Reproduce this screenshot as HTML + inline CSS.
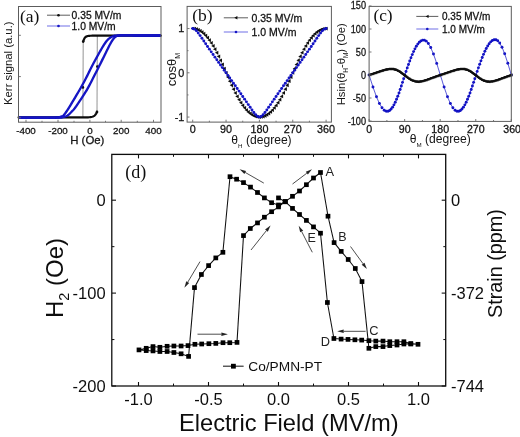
<!DOCTYPE html>
<html lang="en"><head><meta charset="utf-8"><title>Figure</title>
<style>html,body{margin:0;padding:0;background:#fff;}svg{display:block;}</style>
</head><body>
<svg width="520" height="437" viewBox="0 0 520 437">
<defs><filter id="soft" x="-5%" y="-5%" width="110%" height="110%"><feGaussianBlur stdDeviation="0.45"/></filter><filter id="soft2" x="-5%" y="-5%" width="110%" height="110%"><feGaussianBlur stdDeviation="0.3"/></filter></defs>
<rect width="520" height="437" fill="#ffffff"/>
<g id="panel-a" filter="url(#soft)">
<polyline points="82.9,117.4 83.2,41.5" fill="none" stroke="#666" stroke-width="0.7" />
<polyline points="97.3,35.7 97,111.9" fill="none" stroke="#666" stroke-width="0.7" />
<polyline points="83.2,41.5 84,39.22 84.8,37.83 85.6,36.99 86.4,36.48 87.2,36.18 88,35.99 88.8,35.88 89.6,35.81 90.4,35.76 91.2,35.74 92,35.72 92.8,35.71 93.6,35.71 94.4,35.71 95.2,35.7 96,35.7 96.8,35.7 97.6,35.7 98.4,35.7 99.2,35.7 100,35.7 100.8,35.7 101.6,35.7 102.4,35.7 103.2,35.7 104,35.7 104.8,35.7 105.6,35.7 106.4,35.7 107.2,35.7 108,35.7 108.8,35.7 109.6,35.7 110.4,35.7 111.2,35.7 112,35.7 112.8,35.7 113.6,35.7 114.4,35.7 115.2,35.7 116,35.7 116.8,35.7 117.6,35.7 118.4,35.7 119.2,35.7 120,35.7 120.8,35.7 121.6,35.7 122.4,35.7 123.2,35.7 124,35.7 124.8,35.7 125.6,35.7 126.4,35.7 127.2,35.7 128,35.7 128.8,35.7 129.6,35.7 130.4,35.7 131.2,35.7 132,35.7 132.8,35.7 133.6,35.7 134.4,35.7 135.2,35.7 136,35.7 136.8,35.7 137.6,35.7 138.4,35.7 139.2,35.7 140,35.7 140.8,35.7 141.6,35.7 142.4,35.7 143.2,35.7 144,35.7 144.8,35.7 145.6,35.7 146.4,35.7 147.2,35.7 148,35.7 148.8,35.7 149.6,35.7 150.4,35.7 151.2,35.7 152,35.7 152.8,35.7 153.6,35.7 154.4,35.7 155.2,35.7 156,35.7 156.8,35.7 157.6,35.7 158.4,35.7 159.2,35.7 160,35.7 160.8,35.7" fill="none" stroke="#0a0a0a" stroke-width="2.2" stroke-linejoin="round" stroke-linecap="round"/>
<polyline points="97,111.9 96.2,113.58 95.4,114.74 94.6,115.55 93.8,116.12 93,116.51 92.2,116.78 91.4,116.97 90.6,117.1 89.8,117.19 89,117.26 88.2,117.3 87.4,117.33 86.6,117.35 85.8,117.37 85,117.38 84.2,117.38 83.4,117.39 82.6,117.39 81.8,117.39 81,117.4 80.2,117.4 79.4,117.4 78.6,117.4 77.8,117.4 77,117.4 76.2,117.4 75.4,117.4 74.6,117.4 73.8,117.4 73,117.4 72.2,117.4 71.4,117.4 70.6,117.4 69.8,117.4 69,117.4 68.2,117.4 67.4,117.4 66.6,117.4 65.8,117.4 65,117.4 64.2,117.4 63.4,117.4 62.6,117.4 61.8,117.4 61,117.4 60.2,117.4 59.4,117.4 58.6,117.4 57.8,117.4 57,117.4 56.2,117.4 55.4,117.4 54.6,117.4 53.8,117.4 53,117.4 52.2,117.4 51.4,117.4 50.6,117.4 49.8,117.4 49,117.4 48.2,117.4 47.4,117.4 46.6,117.4 45.8,117.4 45,117.4 44.2,117.4 43.4,117.4 42.6,117.4 41.8,117.4 41,117.4 40.2,117.4 39.4,117.4 38.6,117.4 37.8,117.4 37,117.4 36.2,117.4 35.4,117.4 34.6,117.4 33.8,117.4 33,117.4 32.2,117.4 31.4,117.4 30.6,117.4 29.8,117.4 29,117.4 28.2,117.4 27.4,117.4 26.6,117.4 25.8,117.4 25,117.4 24.2,117.4 23.4,117.4 22.6,117.4 21.8,117.4 21,117.4 20.2,117.4 19.4,117.4 18.6,117.4" fill="none" stroke="#0a0a0a" stroke-width="2.2" stroke-linejoin="round" stroke-linecap="round"/>
<g fill="#0a0a0a"><circle cx="83.2" cy="41.5" r="1.3"/><circle cx="82.9" cy="87.4" r="1.3"/><circle cx="97.3" cy="66.6" r="1.3"/><circle cx="97" cy="111.9" r="1.3"/></g>
<polyline points="18.5,117.7 20.2,117.7 22.49,117.7 25.23,117.71 28.25,117.71 31.4,117.71 34.51,117.71 37.43,117.71 40,117.7 42.34,117.69 44.64,117.68 46.89,117.67 49.03,117.66 51.05,117.64 52.9,117.6 54.56,117.56 56,117.5 57.16,117.43 58.06,117.36 58.75,117.28 59.28,117.18 59.72,117.07 60.11,116.94 60.52,116.78 61,116.6 61.48,116.45 61.87,116.36 62.22,116.29 62.56,116.18 62.92,115.98 63.34,115.63 63.85,115.09 64.5,114.3 65.27,113.26 66.13,112.02 67.07,110.61 68.08,109.04 69.15,107.35 70.26,105.54 71.42,103.65 72.6,101.7 73.85,99.62 75.2,97.35 76.62,94.95 78.07,92.47 79.52,89.95 80.95,87.45 82.32,85.02 83.6,82.7 84.79,80.47 85.93,78.28 87.03,76.11 88.09,73.98 89.12,71.88 90.15,69.82 91.17,67.79 92.2,65.8 93.25,63.81 94.33,61.79 95.41,59.79 96.47,57.84 97.5,55.96 98.47,54.19 99.38,52.56 100.2,51.1 100.92,49.83 101.57,48.72 102.14,47.74 102.66,46.88 103.15,46.1 103.6,45.38 104.05,44.69 104.5,44 104.94,43.34 105.34,42.75 105.72,42.21 106.08,41.71 106.43,41.25 106.78,40.82 107.13,40.41 107.5,40 107.88,39.61 108.25,39.24 108.62,38.9 109,38.59 109.38,38.29 109.75,38.01 110.12,37.75 110.5,37.5 110.86,37.27 111.21,37.05 111.56,36.86 111.91,36.68 112.27,36.52 112.64,36.37 113.05,36.23 113.5,36.1 113.87,35.98 114.11,35.88 114.31,35.79 114.56,35.71 114.96,35.65 115.61,35.59 116.59,35.54 118,35.5 119.92,35.47 122.3,35.46 125.02,35.46 127.98,35.46 131.07,35.47 134.17,35.49 137.19,35.5 140,35.5 142.8,35.5 145.77,35.5 148.8,35.5 151.78,35.5 154.58,35.5 157.09,35.5 159.2,35.5 160.8,35.5" fill="none" stroke="#1212c4" stroke-width="2.3" stroke-linejoin="round"/>
<polyline points="18.5,117.7 20.18,117.7 22.45,117.7 25.14,117.7 28.12,117.7 31.25,117.7 34.37,117.7 37.33,117.7 40,117.7 42.51,117.7 45.05,117.71 47.58,117.72 50.03,117.73 52.36,117.74 54.5,117.74 56.4,117.72 58,117.7 59.25,117.67 60.17,117.64 60.84,117.61 61.34,117.56 61.73,117.5 62.08,117.43 62.48,117.33 63,117.2 63.6,117.05 64.18,116.9 64.76,116.72 65.34,116.53 65.91,116.3 66.47,116.04 67.04,115.74 67.6,115.4 68.16,115 68.72,114.56 69.28,114.07 69.83,113.55 70.38,113 70.93,112.44 71.47,111.87 72,111.3 72.48,110.79 72.9,110.37 73.28,109.97 73.67,109.54 74.11,109.02 74.63,108.34 75.28,107.46 76.1,106.3 77.11,104.84 78.3,103.12 79.61,101.2 81.01,99.12 82.45,96.94 83.9,94.71 85.29,92.48 86.6,90.3 87.85,88.12 89.09,85.85 90.33,83.52 91.54,81.17 92.74,78.84 93.9,76.54 95.02,74.32 96.1,72.2 97.13,70.18 98.12,68.22 99.08,66.31 100,64.46 100.9,62.64 101.78,60.87 102.64,59.12 103.5,57.4 104.36,55.67 105.21,53.94 106.06,52.22 106.88,50.55 107.68,48.94 108.43,47.43 109.14,46.04 109.8,44.8 110.39,43.71 110.93,42.75 111.42,41.91 111.87,41.17 112.29,40.5 112.7,39.9 113.1,39.34 113.5,38.8 113.89,38.31 114.25,37.89 114.6,37.53 114.93,37.22 115.26,36.96 115.59,36.72 115.94,36.51 116.3,36.3 116.56,36.11 116.67,35.96 116.71,35.84 116.79,35.74 117.02,35.67 117.47,35.6 118.27,35.55 119.5,35.5 121.23,35.46 123.4,35.44 125.91,35.44 128.65,35.45 131.53,35.46 134.45,35.48 137.3,35.49 140,35.5 142.73,35.5 145.67,35.5 148.69,35.5 151.68,35.5 154.51,35.5 157.06,35.5 159.19,35.5 160.8,35.5" fill="none" stroke="#1212c4" stroke-width="2.3" stroke-linejoin="round"/>
<rect x="18.5" y="6.5" width="142.5" height="115.7" fill="none" stroke="#5c5c5c" stroke-width="1"/>
<line x1="26" y1="122.2" x2="26" y2="119.8" stroke="#6a6a6a" stroke-width="0.9"/>
<text x="26" y="134" font-size="9.8" text-anchor="middle" font-family='"Liberation Sans", Arial, sans-serif' fill="#141414"  stroke="#141414" stroke-width="0.28">-400</text>
<line x1="58" y1="122.2" x2="58" y2="119.8" stroke="#6a6a6a" stroke-width="0.9"/>
<text x="58" y="134" font-size="9.8" text-anchor="middle" font-family='"Liberation Sans", Arial, sans-serif' fill="#141414"  stroke="#141414" stroke-width="0.28">-200</text>
<line x1="89.9" y1="122.2" x2="89.9" y2="119.8" stroke="#6a6a6a" stroke-width="0.9"/>
<text x="89.9" y="134" font-size="9.8" text-anchor="middle" font-family='"Liberation Sans", Arial, sans-serif' fill="#141414"  stroke="#141414" stroke-width="0.28">0</text>
<line x1="121.2" y1="122.2" x2="121.2" y2="119.8" stroke="#6a6a6a" stroke-width="0.9"/>
<text x="121.2" y="134" font-size="9.8" text-anchor="middle" font-family='"Liberation Sans", Arial, sans-serif' fill="#141414"  stroke="#141414" stroke-width="0.28">200</text>
<line x1="153.5" y1="122.2" x2="153.5" y2="119.8" stroke="#6a6a6a" stroke-width="0.9"/>
<text x="153.5" y="134" font-size="9.8" text-anchor="middle" font-family='"Liberation Sans", Arial, sans-serif' fill="#141414"  stroke="#141414" stroke-width="0.28">400</text>
<line x1="42" y1="122.2" x2="42" y2="120.8" stroke="#6a6a6a" stroke-width="0.9"/>
<line x1="74" y1="122.2" x2="74" y2="120.8" stroke="#6a6a6a" stroke-width="0.9"/>
<line x1="105.5" y1="122.2" x2="105.5" y2="120.8" stroke="#6a6a6a" stroke-width="0.9"/>
<line x1="137.3" y1="122.2" x2="137.3" y2="120.8" stroke="#6a6a6a" stroke-width="0.9"/>
<line x1="18.5" y1="35.3" x2="20.9" y2="35.3" stroke="#6a6a6a" stroke-width="0.9"/>
<line x1="18.5" y1="76.6" x2="20.9" y2="76.6" stroke="#6a6a6a" stroke-width="0.9"/>
<line x1="18.5" y1="117.7" x2="20.9" y2="117.7" stroke="#6a6a6a" stroke-width="0.9"/>
<text x="87.3" y="144.4" font-size="11.4" text-anchor="middle" font-family='"Liberation Sans", Arial, sans-serif' fill="#141414"  stroke="#141414" stroke-width="0.28">H (Oe)</text>
<text transform="translate(12.4,63.2) rotate(-90)" font-size="11.3" text-anchor="middle" font-family='"Liberation Sans", Arial, sans-serif' fill="#141414">Kerr signal (a.u.)</text>
<text x="20" y="21.7" font-size="17.5" text-anchor="start" font-family='"Liberation Serif", "Times New Roman", serif' fill="#111" >(a)</text>
<line x1="47" y1="15.2" x2="70" y2="15.2" stroke="#333" stroke-width="0.8"/>
<g fill="#0a0a0a"><circle cx="58.5" cy="15.2" r="1.3"/></g>
<line x1="47" y1="26" x2="70" y2="26" stroke="#4a4ae0" stroke-width="0.8"/>
<g fill="#1212c4"><circle cx="58.5" cy="26" r="1.3"/></g>
<text x="71.6" y="18.9" font-size="10.3" text-anchor="start" font-family='"Liberation Sans", Arial, sans-serif' fill="#141414"  stroke="#141414" stroke-width="0.28">0.35 MV/m</text>
<text x="71.6" y="29.6" font-size="10.3" text-anchor="start" font-family='"Liberation Sans", Arial, sans-serif' fill="#141414"  stroke="#141414" stroke-width="0.28">1.0 MV/m</text>
</g>
<g id="panel-b" filter="url(#soft)">
<polyline points="192.7,28.55 194.55,28.69 196.41,29.12 198.26,29.83 200.11,30.83 201.96,32.12 203.82,33.7 205.67,35.57 207.52,37.73 209.38,40.18 211.23,42.91 213.08,45.91 214.93,49.18 216.79,52.69 218.64,56.42 220.49,60.34 222.34,64.41 224.2,68.58 226.05,72.8 227.9,77.02 229.76,81.19 231.61,85.26 233.46,89.18 235.31,92.91 237.17,96.42 239.02,99.69 240.87,102.69 242.72,105.42 244.58,107.87 246.43,110.03 248.28,111.9 250.14,113.48 251.99,114.77 253.84,115.77 255.69,116.48 257.55,116.91 259.4,117.05 261.25,116.91 263.11,116.48 264.96,115.77 266.81,114.77 268.66,113.48 270.52,111.9 272.37,110.03 274.22,107.87 276.07,105.42 277.93,102.69 279.78,99.69 281.63,96.42 283.49,92.91 285.34,89.18 287.19,85.26 289.04,81.19 290.9,77.02 292.75,72.8 294.6,68.58 296.46,64.41 298.31,60.34 300.16,56.42 302.01,52.69 303.87,49.18 305.72,45.91 307.57,42.91 309.43,40.18 311.28,37.73 313.13,35.57 314.98,33.7 316.84,32.12 318.69,30.83 320.54,29.83 322.39,29.12 324.25,28.69 326.1,28.55" fill="none" stroke="#333" stroke-width="0.4" />
<g fill="#0a0a0a"><path d="M190.8 28.55L194.22 26.65L194.22 30.45Z"/><path d="M192.65 28.69L196.07 26.79L196.07 30.59Z"/><path d="M194.51 29.12L197.93 27.22L197.93 31.02Z"/><path d="M196.36 29.83L199.78 27.93L199.78 31.73Z"/><path d="M198.21 30.83L201.63 28.93L201.63 32.73Z"/><path d="M200.06 32.12L203.48 30.22L203.48 34.02Z"/><path d="M201.92 33.7L205.34 31.8L205.34 35.6Z"/><path d="M203.77 35.57L207.19 33.67L207.19 37.47Z"/><path d="M205.62 37.73L209.04 35.83L209.04 39.63Z"/><path d="M207.47 40.18L210.9 38.28L210.9 42.08Z"/><path d="M209.33 42.91L212.75 41.01L212.75 44.81Z"/><path d="M211.18 45.91L214.6 44.01L214.6 47.81Z"/><path d="M213.03 49.18L216.45 47.28L216.45 51.08Z"/><path d="M214.89 52.69L218.31 50.79L218.31 54.59Z"/><path d="M216.74 56.42L220.16 54.52L220.16 58.32Z"/><path d="M218.59 60.34L222.01 58.44L222.01 62.24Z"/><path d="M220.44 64.41L223.86 62.51L223.86 66.31Z"/><path d="M222.3 68.58L225.72 66.68L225.72 70.48Z"/><path d="M224.15 72.8L227.57 70.9L227.57 74.7Z"/><path d="M226 77.02L229.42 75.12L229.42 78.92Z"/><path d="M227.86 81.19L231.28 79.29L231.28 83.09Z"/><path d="M229.71 85.26L233.13 83.36L233.13 87.16Z"/><path d="M231.56 89.18L234.98 87.28L234.98 91.08Z"/><path d="M233.41 92.91L236.83 91.01L236.83 94.81Z"/><path d="M235.27 96.42L238.69 94.52L238.69 98.32Z"/><path d="M237.12 99.69L240.54 97.79L240.54 101.59Z"/><path d="M238.97 102.69L242.39 100.79L242.39 104.59Z"/><path d="M240.82 105.42L244.25 103.52L244.25 107.32Z"/><path d="M242.68 107.87L246.1 105.97L246.1 109.77Z"/><path d="M244.53 110.03L247.95 108.13L247.95 111.93Z"/><path d="M246.38 111.9L249.8 110L249.8 113.8Z"/><path d="M248.24 113.48L251.66 111.58L251.66 115.38Z"/><path d="M250.09 114.77L253.51 112.87L253.51 116.67Z"/><path d="M251.94 115.77L255.36 113.87L255.36 117.67Z"/><path d="M253.79 116.48L257.21 114.58L257.21 118.38Z"/><path d="M255.65 116.91L259.07 115.01L259.07 118.81Z"/><path d="M257.5 117.05L260.92 115.15L260.92 118.95Z"/><path d="M259.35 116.91L262.77 115.01L262.77 118.81Z"/><path d="M261.21 116.48L264.63 114.58L264.63 118.38Z"/><path d="M263.06 115.77L266.48 113.87L266.48 117.67Z"/><path d="M264.91 114.77L268.33 112.87L268.33 116.67Z"/><path d="M266.76 113.48L270.18 111.58L270.18 115.38Z"/><path d="M268.62 111.9L272.04 110L272.04 113.8Z"/><path d="M270.47 110.03L273.89 108.13L273.89 111.93Z"/><path d="M272.32 107.87L275.74 105.97L275.74 109.77Z"/><path d="M274.18 105.42L277.59 103.52L277.59 107.32Z"/><path d="M276.03 102.69L279.45 100.79L279.45 104.59Z"/><path d="M277.88 99.69L281.3 97.79L281.3 101.59Z"/><path d="M279.73 96.42L283.15 94.52L283.15 98.32Z"/><path d="M281.59 92.91L285.01 91.01L285.01 94.81Z"/><path d="M283.44 89.18L286.86 87.28L286.86 91.08Z"/><path d="M285.29 85.26L288.71 83.36L288.71 87.16Z"/><path d="M287.14 81.19L290.56 79.29L290.56 83.09Z"/><path d="M289 77.02L292.42 75.12L292.42 78.92Z"/><path d="M290.85 72.8L294.27 70.9L294.27 74.7Z"/><path d="M292.7 68.58L296.12 66.68L296.12 70.48Z"/><path d="M294.56 64.41L297.98 62.51L297.98 66.31Z"/><path d="M296.41 60.34L299.83 58.44L299.83 62.24Z"/><path d="M298.26 56.42L301.68 54.52L301.68 58.32Z"/><path d="M300.11 52.69L303.53 50.79L303.53 54.59Z"/><path d="M301.97 49.18L305.39 47.28L305.39 51.08Z"/><path d="M303.82 45.91L307.24 44.01L307.24 47.81Z"/><path d="M305.67 42.91L309.09 41.01L309.09 44.81Z"/><path d="M307.53 40.18L310.94 38.28L310.94 42.08Z"/><path d="M309.38 37.73L312.8 35.83L312.8 39.63Z"/><path d="M311.23 35.57L314.65 33.67L314.65 37.47Z"/><path d="M313.08 33.7L316.5 31.8L316.5 35.6Z"/><path d="M314.94 32.12L318.36 30.22L318.36 34.02Z"/><path d="M316.79 30.83L320.21 28.93L320.21 32.73Z"/><path d="M318.64 29.83L322.06 27.93L322.06 31.73Z"/><path d="M320.49 29.12L323.91 27.22L323.91 31.02Z"/><path d="M322.35 28.69L325.77 26.79L325.77 30.59Z"/><path d="M324.2 28.55L327.62 26.65L327.62 30.45Z"/></g>
<polyline points="192.7,28.55 194.55,29.17 196.41,30.81 198.26,33.06 200.11,35.62 201.96,38.3 203.82,41.02 205.67,43.75 207.52,46.47 209.38,49.17 211.23,51.84 213.08,54.5 214.93,57.15 216.79,59.78 218.64,62.39 220.49,65 222.34,67.61 224.2,70.2 226.05,72.8 227.9,75.4 229.76,77.99 231.61,80.6 233.46,83.21 235.31,85.82 237.17,88.45 239.02,91.1 240.87,93.76 242.72,96.43 244.58,99.13 246.43,101.85 248.28,104.58 250.14,107.3 251.99,109.98 253.84,112.54 255.69,114.79 257.55,116.43 259.4,117.05 261.25,116.43 263.11,114.79 264.96,112.54 266.81,109.98 268.66,107.3 270.52,104.58 272.37,101.85 274.22,99.13 276.07,96.43 277.93,93.76 279.78,91.1 281.63,88.45 283.49,85.82 285.34,83.21 287.19,80.6 289.04,77.99 290.9,75.4 292.75,72.8 294.6,70.2 296.46,67.61 298.31,65 300.16,62.39 302.01,59.78 303.87,57.15 305.72,54.5 307.57,51.84 309.43,49.17 311.28,46.47 313.13,43.75 314.98,41.02 316.84,38.3 318.69,35.62 320.54,33.06 322.39,30.81 324.25,29.17 326.1,28.55" fill="none" stroke="#1212c4" stroke-width="0.6" />
<g fill="#1212c4"><circle cx="192.7" cy="28.55" r="1.45"/><circle cx="194.55" cy="29.17" r="1.45"/><circle cx="196.41" cy="30.81" r="1.45"/><circle cx="198.26" cy="33.06" r="1.45"/><circle cx="200.11" cy="35.62" r="1.45"/><circle cx="201.96" cy="38.3" r="1.45"/><circle cx="203.82" cy="41.02" r="1.45"/><circle cx="205.67" cy="43.75" r="1.45"/><circle cx="207.52" cy="46.47" r="1.45"/><circle cx="209.38" cy="49.17" r="1.45"/><circle cx="211.23" cy="51.84" r="1.45"/><circle cx="213.08" cy="54.5" r="1.45"/><circle cx="214.93" cy="57.15" r="1.45"/><circle cx="216.79" cy="59.78" r="1.45"/><circle cx="218.64" cy="62.39" r="1.45"/><circle cx="220.49" cy="65" r="1.45"/><circle cx="222.34" cy="67.61" r="1.45"/><circle cx="224.2" cy="70.2" r="1.45"/><circle cx="226.05" cy="72.8" r="1.45"/><circle cx="227.9" cy="75.4" r="1.45"/><circle cx="229.76" cy="77.99" r="1.45"/><circle cx="231.61" cy="80.6" r="1.45"/><circle cx="233.46" cy="83.21" r="1.45"/><circle cx="235.31" cy="85.82" r="1.45"/><circle cx="237.17" cy="88.45" r="1.45"/><circle cx="239.02" cy="91.1" r="1.45"/><circle cx="240.87" cy="93.76" r="1.45"/><circle cx="242.72" cy="96.43" r="1.45"/><circle cx="244.58" cy="99.13" r="1.45"/><circle cx="246.43" cy="101.85" r="1.45"/><circle cx="248.28" cy="104.58" r="1.45"/><circle cx="250.14" cy="107.3" r="1.45"/><circle cx="251.99" cy="109.98" r="1.45"/><circle cx="253.84" cy="112.54" r="1.45"/><circle cx="255.69" cy="114.79" r="1.45"/><circle cx="257.55" cy="116.43" r="1.45"/><circle cx="259.4" cy="117.05" r="1.45"/><circle cx="261.25" cy="116.43" r="1.45"/><circle cx="263.11" cy="114.79" r="1.45"/><circle cx="264.96" cy="112.54" r="1.45"/><circle cx="266.81" cy="109.98" r="1.45"/><circle cx="268.66" cy="107.3" r="1.45"/><circle cx="270.52" cy="104.58" r="1.45"/><circle cx="272.37" cy="101.85" r="1.45"/><circle cx="274.22" cy="99.13" r="1.45"/><circle cx="276.07" cy="96.43" r="1.45"/><circle cx="277.93" cy="93.76" r="1.45"/><circle cx="279.78" cy="91.1" r="1.45"/><circle cx="281.63" cy="88.45" r="1.45"/><circle cx="283.49" cy="85.82" r="1.45"/><circle cx="285.34" cy="83.21" r="1.45"/><circle cx="287.19" cy="80.6" r="1.45"/><circle cx="289.04" cy="77.99" r="1.45"/><circle cx="290.9" cy="75.4" r="1.45"/><circle cx="292.75" cy="72.8" r="1.45"/><circle cx="294.6" cy="70.2" r="1.45"/><circle cx="296.46" cy="67.61" r="1.45"/><circle cx="298.31" cy="65" r="1.45"/><circle cx="300.16" cy="62.39" r="1.45"/><circle cx="302.01" cy="59.78" r="1.45"/><circle cx="303.87" cy="57.15" r="1.45"/><circle cx="305.72" cy="54.5" r="1.45"/><circle cx="307.57" cy="51.84" r="1.45"/><circle cx="309.43" cy="49.17" r="1.45"/><circle cx="311.28" cy="46.47" r="1.45"/><circle cx="313.13" cy="43.75" r="1.45"/><circle cx="314.98" cy="41.02" r="1.45"/><circle cx="316.84" cy="38.3" r="1.45"/><circle cx="318.69" cy="35.62" r="1.45"/><circle cx="320.54" cy="33.06" r="1.45"/><circle cx="322.39" cy="30.81" r="1.45"/><circle cx="324.25" cy="29.17" r="1.45"/><circle cx="326.1" cy="28.55" r="1.45"/></g>
<rect x="187.1" y="6.4" width="144.3" height="115.7" fill="none" stroke="#5c5c5c" stroke-width="1"/>
<line x1="192.7" y1="122.1" x2="192.7" y2="119.7" stroke="#6a6a6a" stroke-width="0.9"/>
<text x="192.7" y="133.3" font-size="10.8" text-anchor="middle" font-family='"Liberation Sans", Arial, sans-serif' fill="#141414"  stroke="#141414" stroke-width="0.28">0</text>
<line x1="226.05" y1="122.1" x2="226.05" y2="119.7" stroke="#6a6a6a" stroke-width="0.9"/>
<text x="226.05" y="133.3" font-size="10.8" text-anchor="middle" font-family='"Liberation Sans", Arial, sans-serif' fill="#141414"  stroke="#141414" stroke-width="0.28">90</text>
<line x1="259.4" y1="122.1" x2="259.4" y2="119.7" stroke="#6a6a6a" stroke-width="0.9"/>
<text x="259.4" y="133.3" font-size="10.8" text-anchor="middle" font-family='"Liberation Sans", Arial, sans-serif' fill="#141414"  stroke="#141414" stroke-width="0.28">180</text>
<line x1="292.75" y1="122.1" x2="292.75" y2="119.7" stroke="#6a6a6a" stroke-width="0.9"/>
<text x="292.75" y="133.3" font-size="10.8" text-anchor="middle" font-family='"Liberation Sans", Arial, sans-serif' fill="#141414"  stroke="#141414" stroke-width="0.28">270</text>
<line x1="326.1" y1="122.1" x2="326.1" y2="119.7" stroke="#6a6a6a" stroke-width="0.9"/>
<text x="326.1" y="133.3" font-size="10.8" text-anchor="middle" font-family='"Liberation Sans", Arial, sans-serif' fill="#141414"  stroke="#141414" stroke-width="0.28">360</text>
<line x1="209.38" y1="122.1" x2="209.38" y2="120.7" stroke="#6a6a6a" stroke-width="0.9"/>
<line x1="242.72" y1="122.1" x2="242.72" y2="120.7" stroke="#6a6a6a" stroke-width="0.9"/>
<line x1="276.07" y1="122.1" x2="276.07" y2="120.7" stroke="#6a6a6a" stroke-width="0.9"/>
<line x1="309.43" y1="122.1" x2="309.43" y2="120.7" stroke="#6a6a6a" stroke-width="0.9"/>
<line x1="187.1" y1="28.55" x2="189.5" y2="28.55" stroke="#6a6a6a" stroke-width="0.9"/>
<text x="184.3" y="32.45" font-size="10.8" text-anchor="end" font-family='"Liberation Sans", Arial, sans-serif' fill="#141414"  stroke="#141414" stroke-width="0.28">1</text>
<line x1="187.1" y1="72.8" x2="189.5" y2="72.8" stroke="#6a6a6a" stroke-width="0.9"/>
<text x="184.3" y="76.7" font-size="10.8" text-anchor="end" font-family='"Liberation Sans", Arial, sans-serif' fill="#141414"  stroke="#141414" stroke-width="0.28">0</text>
<line x1="187.1" y1="117.05" x2="189.5" y2="117.05" stroke="#6a6a6a" stroke-width="0.9"/>
<text x="184.3" y="120.95" font-size="10.8" text-anchor="end" font-family='"Liberation Sans", Arial, sans-serif' fill="#141414"  stroke="#141414" stroke-width="0.28">-1</text>
<line x1="187.1" y1="50.67" x2="188.5" y2="50.67" stroke="#6a6a6a" stroke-width="0.9"/>
<line x1="187.1" y1="94.92" x2="188.5" y2="94.92" stroke="#6a6a6a" stroke-width="0.9"/>
<text x="261.5" y="144.0" font-size="12.1" text-anchor="middle" font-family='"Liberation Sans", Arial, sans-serif' fill="#141414">θ<tspan font-size="6.2" dy="4">H</tspan><tspan dy="-4"> (degree)</tspan></text>
<text transform="translate(175.9,69.6) rotate(-90)" font-size="13" text-anchor="middle" font-family='"Liberation Sans", Arial, sans-serif' fill="#141414">cosθ<tspan font-size="7" dy="3.6">M</tspan></text>
<text x="192.3" y="21.2" font-size="17.5" text-anchor="start" font-family='"Liberation Serif", "Times New Roman", serif' fill="#111" >(b)</text>
<line x1="223.8" y1="17.8" x2="248" y2="17.8" stroke="#333" stroke-width="0.8"/>
<g fill="#0a0a0a"><path d="M234.3 17.8L237.36 16.1L237.36 19.5Z"/></g>
<line x1="223.8" y1="32" x2="248" y2="32" stroke="#4a4ae0" stroke-width="0.8"/>
<g fill="#1212c4"><circle cx="236" cy="32" r="1.3"/></g>
<text x="251.5" y="21.6" font-size="10.5" text-anchor="start" font-family='"Liberation Sans", Arial, sans-serif' fill="#141414"  stroke="#141414" stroke-width="0.28">0.35 MV/m</text>
<text x="251.5" y="35.8" font-size="10.5" text-anchor="start" font-family='"Liberation Sans", Arial, sans-serif' fill="#141414"  stroke="#141414" stroke-width="0.28">1.0 MV/m</text>
</g>
<g id="panel-c" filter="url(#soft)">
<polyline points="369.1,75 372.98,87.05 376.46,96.75 379.44,103.51 382,107.79 384.23,110.2 386.21,111.23 388,111.23 389.63,110.44 391.15,109.03 392.59,107.13 393.96,104.83 395.28,102.2 396.55,99.31 397.79,96.21 399,92.93 400.18,89.5 401.35,85.97 402.51,82.36 403.66,78.69 404.81,75 406.03,71.45 407.25,67.92 408.48,64.45 409.72,61.05 410.98,57.76 412.27,54.6 413.58,51.61 414.93,48.83 416.33,46.31 417.79,44.09 419.32,42.27 420.93,40.91 422.67,40.15 424.44,40.15 426.28,41.14 428.35,43.46 430.72,47.57 433.49,54.07 436.72,63.41 440.32,75 444.09,87.05 447.48,96.75 450.39,103.51 452.88,107.79 455.05,110.2 456.98,111.23 458.76,111.23 460.43,110.44 461.99,109.03 463.46,107.13 464.86,104.83 466.21,102.2 467.51,99.31 468.77,96.21 470.01,92.93 471.22,89.5 472.42,85.97 473.6,82.36 474.78,78.69 475.95,75 477.19,71.4 478.43,67.83 479.69,64.31 480.95,60.87 482.24,57.53 483.55,54.33 484.89,51.3 486.26,48.49 487.69,45.93 489.17,43.69 490.73,41.84 492.38,40.46 494.14,39.69 495.91,39.69 497.7,40.69 499.7,43.04 502,47.21 504.68,53.8 507.82,63.26 511.3,75" fill="none" stroke="#1212c4" stroke-width="0.7" />
<g fill="#1212c4"><circle cx="369.1" cy="75" r="1.45"/><circle cx="372.98" cy="87.05" r="1.45"/><circle cx="376.46" cy="96.75" r="1.45"/><circle cx="379.44" cy="103.51" r="1.45"/><circle cx="382" cy="107.79" r="1.45"/><circle cx="384.23" cy="110.2" r="1.45"/><circle cx="386.21" cy="111.23" r="1.45"/><circle cx="388" cy="111.23" r="1.45"/><circle cx="389.63" cy="110.44" r="1.45"/><circle cx="391.15" cy="109.03" r="1.45"/><circle cx="392.59" cy="107.13" r="1.45"/><circle cx="393.96" cy="104.83" r="1.45"/><circle cx="395.28" cy="102.2" r="1.45"/><circle cx="396.55" cy="99.31" r="1.45"/><circle cx="397.79" cy="96.21" r="1.45"/><circle cx="399" cy="92.93" r="1.45"/><circle cx="400.18" cy="89.5" r="1.45"/><circle cx="401.35" cy="85.97" r="1.45"/><circle cx="402.51" cy="82.36" r="1.45"/><circle cx="403.66" cy="78.69" r="1.45"/><circle cx="404.81" cy="75" r="1.45"/><circle cx="406.03" cy="71.45" r="1.45"/><circle cx="407.25" cy="67.92" r="1.45"/><circle cx="408.48" cy="64.45" r="1.45"/><circle cx="409.72" cy="61.05" r="1.45"/><circle cx="410.98" cy="57.76" r="1.45"/><circle cx="412.27" cy="54.6" r="1.45"/><circle cx="413.58" cy="51.61" r="1.45"/><circle cx="414.93" cy="48.83" r="1.45"/><circle cx="416.33" cy="46.31" r="1.45"/><circle cx="417.79" cy="44.09" r="1.45"/><circle cx="419.32" cy="42.27" r="1.45"/><circle cx="420.93" cy="40.91" r="1.45"/><circle cx="422.67" cy="40.15" r="1.45"/><circle cx="424.44" cy="40.15" r="1.45"/><circle cx="426.28" cy="41.14" r="1.45"/><circle cx="428.35" cy="43.46" r="1.45"/><circle cx="430.72" cy="47.57" r="1.45"/><circle cx="433.49" cy="54.07" r="1.45"/><circle cx="436.72" cy="63.41" r="1.45"/><circle cx="440.32" cy="75" r="1.45"/><circle cx="444.09" cy="87.05" r="1.45"/><circle cx="447.48" cy="96.75" r="1.45"/><circle cx="450.39" cy="103.51" r="1.45"/><circle cx="452.88" cy="107.79" r="1.45"/><circle cx="455.05" cy="110.2" r="1.45"/><circle cx="456.98" cy="111.23" r="1.45"/><circle cx="458.76" cy="111.23" r="1.45"/><circle cx="460.43" cy="110.44" r="1.45"/><circle cx="461.99" cy="109.03" r="1.45"/><circle cx="463.46" cy="107.13" r="1.45"/><circle cx="464.86" cy="104.83" r="1.45"/><circle cx="466.21" cy="102.2" r="1.45"/><circle cx="467.51" cy="99.31" r="1.45"/><circle cx="468.77" cy="96.21" r="1.45"/><circle cx="470.01" cy="92.93" r="1.45"/><circle cx="471.22" cy="89.5" r="1.45"/><circle cx="472.42" cy="85.97" r="1.45"/><circle cx="473.6" cy="82.36" r="1.45"/><circle cx="474.78" cy="78.69" r="1.45"/><circle cx="475.95" cy="75" r="1.45"/><circle cx="477.19" cy="71.4" r="1.45"/><circle cx="478.43" cy="67.83" r="1.45"/><circle cx="479.69" cy="64.31" r="1.45"/><circle cx="480.95" cy="60.87" r="1.45"/><circle cx="482.24" cy="57.53" r="1.45"/><circle cx="483.55" cy="54.33" r="1.45"/><circle cx="484.89" cy="51.3" r="1.45"/><circle cx="486.26" cy="48.49" r="1.45"/><circle cx="487.69" cy="45.93" r="1.45"/><circle cx="489.17" cy="43.69" r="1.45"/><circle cx="490.73" cy="41.84" r="1.45"/><circle cx="492.38" cy="40.46" r="1.45"/><circle cx="494.14" cy="39.69" r="1.45"/><circle cx="495.91" cy="39.69" r="1.45"/><circle cx="497.7" cy="40.69" r="1.45"/><circle cx="499.7" cy="43.04" r="1.45"/><circle cx="502" cy="47.21" r="1.45"/><circle cx="504.68" cy="53.8" r="1.45"/><circle cx="507.82" cy="63.26" r="1.45"/><circle cx="511.3" cy="75" r="1.45"/></g>
<polyline points="369.1,75 370.09,74.67 371.08,74.34 372.06,74.01 373.05,73.68 374.04,73.34 375.03,73.01 376.01,72.68 377,72.34 377.99,72.01 378.98,71.68 379.96,71.35 380.95,71.02 381.94,70.7 382.93,70.4 383.91,70.11 384.9,69.84 385.89,69.6 386.88,69.38 387.86,69.21 388.85,69.07 389.84,68.99 390.83,68.96 391.81,69 392.8,69.1 393.79,69.27 394.78,69.51 395.76,69.83 396.75,70.22 397.74,70.69 398.73,71.23 399.71,71.83 400.7,72.48 401.69,73.18 402.68,73.92 403.66,74.69 404.65,75.46 405.64,76.23 406.62,76.99 407.61,77.72 408.6,78.41 409.59,79.05 410.58,79.63 411.56,80.15 412.55,80.59 413.54,80.96 414.53,81.25 415.51,81.46 416.5,81.59 417.49,81.66 418.48,81.65 419.46,81.59 420.45,81.47 421.44,81.29 422.43,81.08 423.41,80.82 424.4,80.54 425.39,80.23 426.38,79.9 427.36,79.56 428.35,79.21 429.34,78.85 430.33,78.49 431.31,78.12 432.3,77.76 433.29,77.4 434.27,77.05 435.26,76.7 436.25,76.35 437.24,76.01 438.23,75.67 439.21,75.33 440.2,75 441.19,74.67 442.18,74.34 443.16,74.01 444.15,73.68 445.14,73.34 446.12,73.01 447.11,72.68 448.1,72.34 449.09,72.01 450.08,71.68 451.06,71.35 452.05,71.02 453.04,70.7 454.02,70.4 455.01,70.11 456,69.84 456.99,69.6 457.98,69.38 458.96,69.21 459.95,69.07 460.94,68.99 461.93,68.96 462.91,69 463.9,69.1 464.89,69.27 465.88,69.51 466.86,69.83 467.85,70.22 468.84,70.69 469.83,71.23 470.81,71.83 471.8,72.48 472.79,73.18 473.78,73.92 474.76,74.69 475.75,75.46 476.74,76.23 477.73,76.99 478.71,77.72 479.7,78.41 480.69,79.05 481.68,79.63 482.66,80.15 483.65,80.59 484.64,80.96 485.62,81.25 486.61,81.46 487.6,81.59 488.59,81.66 489.58,81.65 490.56,81.59 491.55,81.47 492.54,81.29 493.53,81.08 494.51,80.82 495.5,80.54 496.49,80.23 497.48,79.9 498.46,79.56 499.45,79.21 500.44,78.85 501.43,78.49 502.41,78.12 503.4,77.76 504.39,77.4 505.38,77.05 506.36,76.7 507.35,76.35 508.34,76.01 509.32,75.67 510.31,75.33 511.3,75" fill="none" stroke="#0a0a0a" stroke-width="1.8" stroke-linejoin="round"/>
<g fill="#0a0a0a"><path d="M367.6 75L370.3 73.5L370.3 76.5Z"/><path d="M368.59 74.67L371.29 73.17L371.29 76.17Z"/><path d="M369.58 74.34L372.28 72.84L372.28 75.84Z"/><path d="M370.56 74.01L373.26 72.51L373.26 75.51Z"/><path d="M371.55 73.68L374.25 72.18L374.25 75.18Z"/><path d="M372.54 73.34L375.24 71.84L375.24 74.84Z"/><path d="M373.53 73.01L376.23 71.51L376.23 74.51Z"/><path d="M374.51 72.68L377.21 71.18L377.21 74.18Z"/><path d="M375.5 72.34L378.2 70.84L378.2 73.84Z"/><path d="M376.49 72.01L379.19 70.51L379.19 73.51Z"/><path d="M377.48 71.68L380.18 70.18L380.18 73.18Z"/><path d="M378.46 71.35L381.16 69.85L381.16 72.85Z"/><path d="M379.45 71.02L382.15 69.52L382.15 72.52Z"/><path d="M380.44 70.7L383.14 69.2L383.14 72.2Z"/><path d="M381.43 70.4L384.12 68.9L384.12 71.9Z"/><path d="M382.41 70.11L385.11 68.61L385.11 71.61Z"/><path d="M383.4 69.84L386.1 68.34L386.1 71.34Z"/><path d="M384.39 69.6L387.09 68.1L387.09 71.1Z"/><path d="M385.38 69.38L388.07 67.88L388.07 70.88Z"/><path d="M386.36 69.21L389.06 67.71L389.06 70.71Z"/><path d="M387.35 69.07L390.05 67.57L390.05 70.57Z"/><path d="M388.34 68.99L391.04 67.49L391.04 70.49Z"/><path d="M389.33 68.96L392.03 67.46L392.03 70.46Z"/><path d="M390.31 69L393.01 67.5L393.01 70.5Z"/><path d="M391.3 69.1L394 67.6L394 70.6Z"/><path d="M392.29 69.27L394.99 67.77L394.99 70.77Z"/><path d="M393.28 69.51L395.98 68.01L395.98 71.01Z"/><path d="M394.26 69.83L396.96 68.33L396.96 71.33Z"/><path d="M395.25 70.22L397.95 68.72L397.95 71.72Z"/><path d="M396.24 70.69L398.94 69.19L398.94 72.19Z"/><path d="M397.23 71.23L399.93 69.73L399.93 72.73Z"/><path d="M398.21 71.83L400.91 70.33L400.91 73.33Z"/><path d="M399.2 72.48L401.9 70.98L401.9 73.98Z"/><path d="M400.19 73.18L402.89 71.68L402.89 74.68Z"/><path d="M401.18 73.92L403.88 72.42L403.88 75.42Z"/><path d="M402.16 74.69L404.86 73.19L404.86 76.19Z"/><path d="M403.15 75.46L405.85 73.96L405.85 76.96Z"/><path d="M404.14 76.23L406.84 74.73L406.84 77.73Z"/><path d="M405.12 76.99L407.82 75.49L407.82 78.49Z"/><path d="M406.11 77.72L408.81 76.22L408.81 79.22Z"/><path d="M407.1 78.41L409.8 76.91L409.8 79.91Z"/><path d="M408.09 79.05L410.79 77.55L410.79 80.55Z"/><path d="M409.08 79.63L411.78 78.13L411.78 81.13Z"/><path d="M410.06 80.15L412.76 78.65L412.76 81.65Z"/><path d="M411.05 80.59L413.75 79.09L413.75 82.09Z"/><path d="M412.04 80.96L414.74 79.46L414.74 82.46Z"/><path d="M413.03 81.25L415.73 79.75L415.73 82.75Z"/><path d="M414.01 81.46L416.71 79.96L416.71 82.96Z"/><path d="M415 81.59L417.7 80.09L417.7 83.09Z"/><path d="M415.99 81.66L418.69 80.16L418.69 83.16Z"/><path d="M416.98 81.65L419.68 80.15L419.68 83.15Z"/><path d="M417.96 81.59L420.66 80.09L420.66 83.09Z"/><path d="M418.95 81.47L421.65 79.97L421.65 82.97Z"/><path d="M419.94 81.29L422.64 79.79L422.64 82.79Z"/><path d="M420.93 81.08L423.62 79.58L423.62 82.58Z"/><path d="M421.91 80.82L424.61 79.32L424.61 82.32Z"/><path d="M422.9 80.54L425.6 79.04L425.6 82.04Z"/><path d="M423.89 80.23L426.59 78.73L426.59 81.73Z"/><path d="M424.88 79.9L427.57 78.4L427.57 81.4Z"/><path d="M425.86 79.56L428.56 78.06L428.56 81.06Z"/><path d="M426.85 79.21L429.55 77.71L429.55 80.71Z"/><path d="M427.84 78.85L430.54 77.35L430.54 80.35Z"/><path d="M428.83 78.49L431.53 76.99L431.53 79.99Z"/><path d="M429.81 78.12L432.51 76.62L432.51 79.62Z"/><path d="M430.8 77.76L433.5 76.26L433.5 79.26Z"/><path d="M431.79 77.4L434.49 75.9L434.49 78.9Z"/><path d="M432.77 77.05L435.47 75.55L435.47 78.55Z"/><path d="M433.76 76.7L436.46 75.2L436.46 78.2Z"/><path d="M434.75 76.35L437.45 74.85L437.45 77.85Z"/><path d="M435.74 76.01L438.44 74.51L438.44 77.51Z"/><path d="M436.73 75.67L439.43 74.17L439.43 77.17Z"/><path d="M437.71 75.33L440.41 73.83L440.41 76.83Z"/><path d="M438.7 75L441.4 73.5L441.4 76.5Z"/><path d="M439.69 74.67L442.39 73.17L442.39 76.17Z"/><path d="M440.68 74.34L443.38 72.84L443.38 75.84Z"/><path d="M441.66 74.01L444.36 72.51L444.36 75.51Z"/><path d="M442.65 73.68L445.35 72.18L445.35 75.18Z"/><path d="M443.64 73.34L446.34 71.84L446.34 74.84Z"/><path d="M444.62 73.01L447.32 71.51L447.32 74.51Z"/><path d="M445.61 72.68L448.31 71.18L448.31 74.18Z"/><path d="M446.6 72.34L449.3 70.84L449.3 73.84Z"/><path d="M447.59 72.01L450.29 70.51L450.29 73.51Z"/><path d="M448.58 71.68L451.28 70.18L451.28 73.18Z"/><path d="M449.56 71.35L452.26 69.85L452.26 72.85Z"/><path d="M450.55 71.02L453.25 69.52L453.25 72.52Z"/><path d="M451.54 70.7L454.24 69.2L454.24 72.2Z"/><path d="M452.52 70.4L455.22 68.9L455.22 71.9Z"/><path d="M453.51 70.11L456.21 68.61L456.21 71.61Z"/><path d="M454.5 69.84L457.2 68.34L457.2 71.34Z"/><path d="M455.49 69.6L458.19 68.1L458.19 71.1Z"/><path d="M456.48 69.38L459.18 67.88L459.18 70.88Z"/><path d="M457.46 69.21L460.16 67.71L460.16 70.71Z"/><path d="M458.45 69.07L461.15 67.57L461.15 70.57Z"/><path d="M459.44 68.99L462.14 67.49L462.14 70.49Z"/><path d="M460.43 68.96L463.12 67.46L463.12 70.46Z"/><path d="M461.41 69L464.11 67.5L464.11 70.5Z"/><path d="M462.4 69.1L465.1 67.6L465.1 70.6Z"/><path d="M463.39 69.27L466.09 67.77L466.09 70.77Z"/><path d="M464.38 69.51L467.07 68.01L467.07 71.01Z"/><path d="M465.36 69.83L468.06 68.33L468.06 71.33Z"/><path d="M466.35 70.22L469.05 68.72L469.05 71.72Z"/><path d="M467.34 70.69L470.04 69.19L470.04 72.19Z"/><path d="M468.33 71.23L471.03 69.73L471.03 72.73Z"/><path d="M469.31 71.83L472.01 70.33L472.01 73.33Z"/><path d="M470.3 72.48L473 70.98L473 73.98Z"/><path d="M471.29 73.18L473.99 71.68L473.99 74.68Z"/><path d="M472.28 73.92L474.98 72.42L474.98 75.42Z"/><path d="M473.26 74.69L475.96 73.19L475.96 76.19Z"/><path d="M474.25 75.46L476.95 73.96L476.95 76.96Z"/><path d="M475.24 76.23L477.94 74.73L477.94 77.73Z"/><path d="M476.23 76.99L478.93 75.49L478.93 78.49Z"/><path d="M477.21 77.72L479.91 76.22L479.91 79.22Z"/><path d="M478.2 78.41L480.9 76.91L480.9 79.91Z"/><path d="M479.19 79.05L481.89 77.55L481.89 80.55Z"/><path d="M480.18 79.63L482.88 78.13L482.88 81.13Z"/><path d="M481.16 80.15L483.86 78.65L483.86 81.65Z"/><path d="M482.15 80.59L484.85 79.09L484.85 82.09Z"/><path d="M483.14 80.96L485.84 79.46L485.84 82.46Z"/><path d="M484.12 81.25L486.82 79.75L486.82 82.75Z"/><path d="M485.11 81.46L487.81 79.96L487.81 82.96Z"/><path d="M486.1 81.59L488.8 80.09L488.8 83.09Z"/><path d="M487.09 81.66L489.79 80.16L489.79 83.16Z"/><path d="M488.08 81.65L490.78 80.15L490.78 83.15Z"/><path d="M489.06 81.59L491.76 80.09L491.76 83.09Z"/><path d="M490.05 81.47L492.75 79.97L492.75 82.97Z"/><path d="M491.04 81.29L493.74 79.79L493.74 82.79Z"/><path d="M492.03 81.08L494.73 79.58L494.73 82.58Z"/><path d="M493.01 80.82L495.71 79.32L495.71 82.32Z"/><path d="M494 80.54L496.7 79.04L496.7 82.04Z"/><path d="M494.99 80.23L497.69 78.73L497.69 81.73Z"/><path d="M495.98 79.9L498.68 78.4L498.68 81.4Z"/><path d="M496.96 79.56L499.66 78.06L499.66 81.06Z"/><path d="M497.95 79.21L500.65 77.71L500.65 80.71Z"/><path d="M498.94 78.85L501.64 77.35L501.64 80.35Z"/><path d="M499.93 78.49L502.62 76.99L502.62 79.99Z"/><path d="M500.91 78.12L503.61 76.62L503.61 79.62Z"/><path d="M501.9 77.76L504.6 76.26L504.6 79.26Z"/><path d="M502.89 77.4L505.59 75.9L505.59 78.9Z"/><path d="M503.88 77.05L506.57 75.55L506.57 78.55Z"/><path d="M504.86 76.7L507.56 75.2L507.56 78.2Z"/><path d="M505.85 76.35L508.55 74.85L508.55 77.85Z"/><path d="M506.84 76.01L509.54 74.51L509.54 77.51Z"/><path d="M507.82 75.67L510.52 74.17L510.52 77.17Z"/><path d="M508.81 75.33L511.51 73.83L511.51 76.83Z"/><path d="M509.8 75L512.5 73.5L512.5 76.5Z"/></g>
<rect x="369.1" y="6.4" width="142.2" height="115" fill="none" stroke="#5c5c5c" stroke-width="1"/>
<line x1="369.1" y1="121.4" x2="369.1" y2="119" stroke="#6a6a6a" stroke-width="0.9"/>
<text x="369.1" y="132.8" font-size="10.6" text-anchor="middle" font-family='"Liberation Sans", Arial, sans-serif' fill="#141414"  stroke="#141414" stroke-width="0.28">0</text>
<line x1="404.65" y1="121.4" x2="404.65" y2="119" stroke="#6a6a6a" stroke-width="0.9"/>
<text x="404.65" y="132.8" font-size="10.6" text-anchor="middle" font-family='"Liberation Sans", Arial, sans-serif' fill="#141414"  stroke="#141414" stroke-width="0.28">90</text>
<line x1="440.2" y1="121.4" x2="440.2" y2="119" stroke="#6a6a6a" stroke-width="0.9"/>
<text x="440.2" y="132.8" font-size="10.6" text-anchor="middle" font-family='"Liberation Sans", Arial, sans-serif' fill="#141414"  stroke="#141414" stroke-width="0.28">180</text>
<line x1="475.75" y1="121.4" x2="475.75" y2="119" stroke="#6a6a6a" stroke-width="0.9"/>
<text x="475.75" y="132.8" font-size="10.6" text-anchor="middle" font-family='"Liberation Sans", Arial, sans-serif' fill="#141414"  stroke="#141414" stroke-width="0.28">270</text>
<line x1="511.3" y1="121.4" x2="511.3" y2="119" stroke="#6a6a6a" stroke-width="0.9"/>
<text x="512.1" y="132.8" font-size="10.6" text-anchor="middle" font-family='"Liberation Sans", Arial, sans-serif' fill="#141414"  stroke="#141414" stroke-width="0.28">360</text>
<line x1="386.88" y1="121.4" x2="386.88" y2="120" stroke="#6a6a6a" stroke-width="0.9"/>
<line x1="422.43" y1="121.4" x2="422.43" y2="120" stroke="#6a6a6a" stroke-width="0.9"/>
<line x1="457.98" y1="121.4" x2="457.98" y2="120" stroke="#6a6a6a" stroke-width="0.9"/>
<line x1="493.53" y1="121.4" x2="493.53" y2="120" stroke="#6a6a6a" stroke-width="0.9"/>
<line x1="369.1" y1="6" x2="371.5" y2="6" stroke="#6a6a6a" stroke-width="0.9"/>
<text x="366" y="8.8" font-size="10.4" text-anchor="end" font-family='"Liberation Sans", Arial, sans-serif' fill="#141414" transform="translate(43.92 0) scale(0.88 1)" stroke="#141414" stroke-width="0.28">150</text>
<line x1="369.1" y1="29" x2="371.5" y2="29" stroke="#6a6a6a" stroke-width="0.9"/>
<text x="366" y="32.8" font-size="10.4" text-anchor="end" font-family='"Liberation Sans", Arial, sans-serif' fill="#141414" transform="translate(43.92 0) scale(0.88 1)" stroke="#141414" stroke-width="0.28">100</text>
<line x1="369.1" y1="52" x2="371.5" y2="52" stroke="#6a6a6a" stroke-width="0.9"/>
<text x="366" y="55.8" font-size="10.4" text-anchor="end" font-family='"Liberation Sans", Arial, sans-serif' fill="#141414" transform="translate(43.92 0) scale(0.88 1)" stroke="#141414" stroke-width="0.28">50</text>
<line x1="369.1" y1="75" x2="371.5" y2="75" stroke="#6a6a6a" stroke-width="0.9"/>
<text x="366" y="78.8" font-size="10.4" text-anchor="end" font-family='"Liberation Sans", Arial, sans-serif' fill="#141414" transform="translate(43.92 0) scale(0.88 1)" stroke="#141414" stroke-width="0.28">0</text>
<line x1="369.1" y1="98" x2="371.5" y2="98" stroke="#6a6a6a" stroke-width="0.9"/>
<text x="366" y="101.8" font-size="10.4" text-anchor="end" font-family='"Liberation Sans", Arial, sans-serif' fill="#141414" transform="translate(43.92 0) scale(0.88 1)" stroke="#141414" stroke-width="0.28">-50</text>
<line x1="369.1" y1="121" x2="371.5" y2="121" stroke="#6a6a6a" stroke-width="0.9"/>
<text x="366" y="124.8" font-size="10.4" text-anchor="end" font-family='"Liberation Sans", Arial, sans-serif' fill="#141414" transform="translate(43.92 0) scale(0.88 1)" stroke="#141414" stroke-width="0.28">-100</text>
<text x="440.3" y="142.6" font-size="12.1" text-anchor="middle" font-family='"Liberation Sans", Arial, sans-serif' fill="#141414">θ<tspan font-size="6.2" dy="4">M</tspan><tspan dy="-4"> (degree)</tspan></text>
<text transform="translate(344.9,64.3) rotate(-90)" font-size="11.2" text-anchor="middle" textLength="82" lengthAdjust="spacingAndGlyphs" font-family='"Liberation Sans", Arial, sans-serif' fill="#141414">Hsin(θ<tspan font-size="6.5" dy="3">H</tspan><tspan dy="-3">-θ</tspan><tspan font-size="6.5" dy="3">M</tspan><tspan dy="-3">) (Oe)</tspan></text>
<text x="373.4" y="20.6" font-size="17.3" text-anchor="start" font-family='"Liberation Serif", "Times New Roman", serif' fill="#111" >(c)</text>
<line x1="416.3" y1="16.4" x2="438.3" y2="16.4" stroke="#333" stroke-width="0.8"/>
<g fill="#0a0a0a"><path d="M425.7 16.4L428.58 14.8L428.58 18Z"/></g>
<line x1="416.3" y1="29" x2="438.3" y2="29" stroke="#4a4ae0" stroke-width="0.8"/>
<g fill="#1212c4"><circle cx="427.3" cy="29" r="1.3"/></g>
<text x="442" y="20" font-size="10.0" text-anchor="start" font-family='"Liberation Sans", Arial, sans-serif' fill="#141414"  stroke="#141414" stroke-width="0.28">0.35 MV/m</text>
<text x="442" y="32.6" font-size="10.0" text-anchor="start" font-family='"Liberation Sans", Arial, sans-serif' fill="#141414"  stroke="#141414" stroke-width="0.28">1.0 MV/m</text>
</g>
<g id="panel-d" filter="url(#soft2)">
<polyline points="278.5,197.9 285.2,201.7 292.5,196.3 299.5,191 306.4,184.7 313.5,178 320.5,172.5 328,216.2 334.1,242.6 341.2,251.4 348.2,259.5 355.3,268.5 362,281.6 368.9,348.3 375.8,346.6 383,346.6 389.8,345.6 397,345 403.9,344 410.8,344 418,344.3 410.8,343.6 403.9,341.7 397,341.7 389.8,341.7 383,341.1 375.8,341.1 368.9,340.7 361.7,340.1 354.9,339.8 348,339.4 341.1,339.1 333.9,338.5 327.4,302.5 320.5,233.2 313.5,226.9 306.4,220.4 299.5,214.5 292.5,208.4 285.2,201.7 278.5,205 271.6,202.7 264.4,197.9 257.5,192.5 250.5,187.1 243.5,182.6 236.6,179.2 230,176.7 222.9,252.3 215.8,257.9 208.6,265.6 201.4,274.5 194.5,287.6 188.6,356.4 181.1,353.8 173.9,352.5 167.1,351.5 159.9,351.5 153,350.9 146.2,350.6 139,349.9 146.2,348.3 153,346.6 159.9,347.3 167.1,346.3 173.9,346 181.1,346 188,345.6 194.9,344.3 201.7,344 208.9,343.7 215.8,343.4 223,342.7 229.8,342.7 237,342.4 243.5,235.6 250.3,228.5 257.5,222.9 264.4,217.2 271.6,211.7 278.5,206.9 285.2,201.7" fill="none" stroke="#111" stroke-width="1.05" stroke-linejoin="round"/>
<g fill="#000"><rect x="276.15" y="195.55" width="4.7" height="4.7"/><rect x="282.85" y="199.35" width="4.7" height="4.7"/><rect x="290.15" y="193.95" width="4.7" height="4.7"/><rect x="297.15" y="188.65" width="4.7" height="4.7"/><rect x="304.05" y="182.35" width="4.7" height="4.7"/><rect x="311.15" y="175.65" width="4.7" height="4.7"/><rect x="318.15" y="170.15" width="4.7" height="4.7"/><rect x="325.65" y="213.85" width="4.7" height="4.7"/><rect x="331.75" y="240.25" width="4.7" height="4.7"/><rect x="338.85" y="249.05" width="4.7" height="4.7"/><rect x="345.85" y="257.15" width="4.7" height="4.7"/><rect x="352.95" y="266.15" width="4.7" height="4.7"/><rect x="359.65" y="279.25" width="4.7" height="4.7"/><rect x="366.55" y="345.95" width="4.7" height="4.7"/><rect x="373.45" y="344.25" width="4.7" height="4.7"/><rect x="380.65" y="344.25" width="4.7" height="4.7"/><rect x="387.45" y="343.25" width="4.7" height="4.7"/><rect x="394.65" y="342.65" width="4.7" height="4.7"/><rect x="401.55" y="341.65" width="4.7" height="4.7"/><rect x="408.45" y="341.65" width="4.7" height="4.7"/><rect x="415.65" y="341.95" width="4.7" height="4.7"/><rect x="408.45" y="341.25" width="4.7" height="4.7"/><rect x="401.55" y="339.35" width="4.7" height="4.7"/><rect x="394.65" y="339.35" width="4.7" height="4.7"/><rect x="387.45" y="339.35" width="4.7" height="4.7"/><rect x="380.65" y="338.75" width="4.7" height="4.7"/><rect x="373.45" y="338.75" width="4.7" height="4.7"/><rect x="366.55" y="338.35" width="4.7" height="4.7"/><rect x="359.35" y="337.75" width="4.7" height="4.7"/><rect x="352.55" y="337.45" width="4.7" height="4.7"/><rect x="345.65" y="337.05" width="4.7" height="4.7"/><rect x="338.75" y="336.75" width="4.7" height="4.7"/><rect x="331.55" y="336.15" width="4.7" height="4.7"/><rect x="325.05" y="300.15" width="4.7" height="4.7"/><rect x="318.15" y="230.85" width="4.7" height="4.7"/><rect x="311.15" y="224.55" width="4.7" height="4.7"/><rect x="304.05" y="218.05" width="4.7" height="4.7"/><rect x="297.15" y="212.15" width="4.7" height="4.7"/><rect x="290.15" y="206.05" width="4.7" height="4.7"/><rect x="282.85" y="199.35" width="4.7" height="4.7"/><rect x="276.15" y="202.65" width="4.7" height="4.7"/><rect x="269.25" y="200.35" width="4.7" height="4.7"/><rect x="262.05" y="195.55" width="4.7" height="4.7"/><rect x="255.15" y="190.15" width="4.7" height="4.7"/><rect x="248.15" y="184.75" width="4.7" height="4.7"/><rect x="241.15" y="180.25" width="4.7" height="4.7"/><rect x="234.25" y="176.85" width="4.7" height="4.7"/><rect x="227.65" y="174.35" width="4.7" height="4.7"/><rect x="220.55" y="249.95" width="4.7" height="4.7"/><rect x="213.45" y="255.55" width="4.7" height="4.7"/><rect x="206.25" y="263.25" width="4.7" height="4.7"/><rect x="199.05" y="272.15" width="4.7" height="4.7"/><rect x="192.15" y="285.25" width="4.7" height="4.7"/><rect x="186.25" y="354.05" width="4.7" height="4.7"/><rect x="178.75" y="351.45" width="4.7" height="4.7"/><rect x="171.55" y="350.15" width="4.7" height="4.7"/><rect x="164.75" y="349.15" width="4.7" height="4.7"/><rect x="157.55" y="349.15" width="4.7" height="4.7"/><rect x="150.65" y="348.55" width="4.7" height="4.7"/><rect x="143.85" y="348.25" width="4.7" height="4.7"/><rect x="136.65" y="347.55" width="4.7" height="4.7"/><rect x="143.85" y="345.95" width="4.7" height="4.7"/><rect x="150.65" y="344.25" width="4.7" height="4.7"/><rect x="157.55" y="344.95" width="4.7" height="4.7"/><rect x="164.75" y="343.95" width="4.7" height="4.7"/><rect x="171.55" y="343.65" width="4.7" height="4.7"/><rect x="178.75" y="343.65" width="4.7" height="4.7"/><rect x="185.65" y="343.25" width="4.7" height="4.7"/><rect x="192.55" y="341.95" width="4.7" height="4.7"/><rect x="199.35" y="341.65" width="4.7" height="4.7"/><rect x="206.55" y="341.35" width="4.7" height="4.7"/><rect x="213.45" y="341.05" width="4.7" height="4.7"/><rect x="220.65" y="340.35" width="4.7" height="4.7"/><rect x="227.45" y="340.35" width="4.7" height="4.7"/><rect x="234.65" y="340.05" width="4.7" height="4.7"/><rect x="241.15" y="233.25" width="4.7" height="4.7"/><rect x="247.95" y="226.15" width="4.7" height="4.7"/><rect x="255.15" y="220.55" width="4.7" height="4.7"/><rect x="262.05" y="214.85" width="4.7" height="4.7"/><rect x="269.25" y="209.35" width="4.7" height="4.7"/><rect x="276.15" y="204.55" width="4.7" height="4.7"/><rect x="282.85" y="199.35" width="4.7" height="4.7"/></g>
<rect x="111.8" y="154.4" width="333.9" height="231.6" fill="none" stroke="#111" stroke-width="1.3"/>
<line x1="138.5" y1="386" x2="138.5" y2="382" stroke="#111" stroke-width="1.1"/>
<line x1="138.5" y1="154.4" x2="138.5" y2="158.4" stroke="#111" stroke-width="1.1"/>
<text x="138.5" y="405" font-size="16.5" text-anchor="middle" font-family='"Liberation Sans", Arial, sans-serif' fill="#111" >-1.0</text>
<line x1="208.5" y1="386" x2="208.5" y2="382" stroke="#111" stroke-width="1.1"/>
<line x1="208.5" y1="154.4" x2="208.5" y2="158.4" stroke="#111" stroke-width="1.1"/>
<text x="208.5" y="405" font-size="16.5" text-anchor="middle" font-family='"Liberation Sans", Arial, sans-serif' fill="#111" >-0.5</text>
<line x1="278.5" y1="386" x2="278.5" y2="382" stroke="#111" stroke-width="1.1"/>
<line x1="278.5" y1="154.4" x2="278.5" y2="158.4" stroke="#111" stroke-width="1.1"/>
<text x="278.5" y="405" font-size="16.5" text-anchor="middle" font-family='"Liberation Sans", Arial, sans-serif' fill="#111" >0.0</text>
<line x1="348.5" y1="386" x2="348.5" y2="382" stroke="#111" stroke-width="1.1"/>
<line x1="348.5" y1="154.4" x2="348.5" y2="158.4" stroke="#111" stroke-width="1.1"/>
<text x="348.5" y="405" font-size="16.5" text-anchor="middle" font-family='"Liberation Sans", Arial, sans-serif' fill="#111" >0.5</text>
<line x1="418.5" y1="386" x2="418.5" y2="382" stroke="#111" stroke-width="1.1"/>
<line x1="418.5" y1="154.4" x2="418.5" y2="158.4" stroke="#111" stroke-width="1.1"/>
<text x="418.5" y="405" font-size="16.5" text-anchor="middle" font-family='"Liberation Sans", Arial, sans-serif' fill="#111" >1.0</text>
<line x1="173.5" y1="386" x2="173.5" y2="383.6" stroke="#111" stroke-width="1.0"/>
<line x1="173.5" y1="154.4" x2="173.5" y2="156.8" stroke="#111" stroke-width="1.0"/>
<line x1="243.5" y1="386" x2="243.5" y2="383.6" stroke="#111" stroke-width="1.0"/>
<line x1="243.5" y1="154.4" x2="243.5" y2="156.8" stroke="#111" stroke-width="1.0"/>
<line x1="313.5" y1="386" x2="313.5" y2="383.6" stroke="#111" stroke-width="1.0"/>
<line x1="313.5" y1="154.4" x2="313.5" y2="156.8" stroke="#111" stroke-width="1.0"/>
<line x1="383.5" y1="386" x2="383.5" y2="383.6" stroke="#111" stroke-width="1.0"/>
<line x1="383.5" y1="154.4" x2="383.5" y2="156.8" stroke="#111" stroke-width="1.0"/>
<line x1="112" y1="200.2" x2="116" y2="200.2" stroke="#111" stroke-width="1.1"/>
<line x1="445.7" y1="200.2" x2="441.7" y2="200.2" stroke="#111" stroke-width="1.1"/>
<text x="105.6" y="206.1" font-size="16.5" text-anchor="end" font-family='"Liberation Sans", Arial, sans-serif' fill="#111" >0</text>
<text x="451" y="206.1" font-size="16.5" text-anchor="start" font-family='"Liberation Sans", Arial, sans-serif' fill="#111" >0</text>
<line x1="112" y1="293.1" x2="116" y2="293.1" stroke="#111" stroke-width="1.1"/>
<line x1="445.7" y1="293.1" x2="441.7" y2="293.1" stroke="#111" stroke-width="1.1"/>
<text x="105.6" y="299" font-size="16.5" text-anchor="end" font-family='"Liberation Sans", Arial, sans-serif' fill="#111" >-100</text>
<text x="451" y="299" font-size="16.5" text-anchor="start" font-family='"Liberation Sans", Arial, sans-serif' fill="#111" >-372</text>
<line x1="112" y1="386" x2="116" y2="386" stroke="#111" stroke-width="1.1"/>
<line x1="445.7" y1="386" x2="441.7" y2="386" stroke="#111" stroke-width="1.1"/>
<text x="105.6" y="391.9" font-size="16.5" text-anchor="end" font-family='"Liberation Sans", Arial, sans-serif' fill="#111" >-200</text>
<text x="451" y="391.9" font-size="16.5" text-anchor="start" font-family='"Liberation Sans", Arial, sans-serif' fill="#111" >-744</text>
<line x1="112" y1="246.65" x2="114.4" y2="246.65" stroke="#111" stroke-width="1.0"/>
<line x1="445.7" y1="246.65" x2="443.3" y2="246.65" stroke="#111" stroke-width="1.0"/>
<line x1="112" y1="339.55" x2="114.4" y2="339.55" stroke="#111" stroke-width="1.0"/>
<line x1="445.7" y1="339.55" x2="443.3" y2="339.55" stroke="#111" stroke-width="1.0"/>
<text x="288.8" y="430.8" font-size="23.7" text-anchor="middle" font-family='"Liberation Sans", Arial, sans-serif' fill="#111" >Electric Field (MV/m)</text>
<text transform="translate(63.3,278) rotate(-90)" font-size="24" text-anchor="middle" font-family='"Liberation Sans", Arial, sans-serif' fill="#111">H<tspan font-size="14.5" dy="5.5">2</tspan><tspan dy="-5.5"> (Oe)</tspan></text>
<text transform="translate(501.5,263.5) rotate(-90)" font-size="19.8" text-anchor="middle" font-family='"Liberation Sans", Arial, sans-serif' fill="#111">Strain (ppm)</text>
<text x="125.3" y="178.1" font-size="18" text-anchor="start" font-family='"Liberation Serif", "Times New Roman", serif' fill="#111" >(d)</text>
<text x="329.8" y="175.8" font-size="12.8" text-anchor="middle" font-family='"Liberation Sans", Arial, sans-serif' fill="#222" >A</text>
<text x="342.5" y="241.3" font-size="12.5" text-anchor="middle" font-family='"Liberation Sans", Arial, sans-serif' fill="#222" >B</text>
<text x="373.8" y="335.2" font-size="12.8" text-anchor="middle" font-family='"Liberation Sans", Arial, sans-serif' fill="#222" >C</text>
<text x="325.4" y="345.6" font-size="12.8" text-anchor="middle" font-family='"Liberation Sans", Arial, sans-serif' fill="#222" >D</text>
<text x="311.6" y="241.6" font-size="12.5" text-anchor="middle" font-family='"Liberation Sans", Arial, sans-serif' fill="#222" >E</text>
<line x1="263.8" y1="183.1" x2="245.24" y2="172.44" stroke="#222" stroke-width="0.8"/>
<path d="M239.6 169.2L246.08 170.96L244.39 173.91Z" fill="#222"/>
<line x1="292.5" y1="184" x2="306.81" y2="173.21" stroke="#222" stroke-width="0.8"/>
<path d="M312 169.3L307.83 174.57L305.79 171.86Z" fill="#222"/>
<line x1="251" y1="250" x2="266.45" y2="230.59" stroke="#222" stroke-width="0.8"/>
<path d="M270.5 225.5L267.78 231.64L265.12 229.53Z" fill="#222"/>
<line x1="312.3" y1="252.3" x2="301.67" y2="231.58" stroke="#222" stroke-width="0.8"/>
<path d="M298.7 225.8L303.18 230.81L300.16 232.36Z" fill="#222"/>
<line x1="350.5" y1="246.5" x2="363.07" y2="263.75" stroke="#222" stroke-width="0.8"/>
<path d="M366.9 269L361.7 264.75L364.45 262.75Z" fill="#222"/>
<line x1="200" y1="261.6" x2="187.73" y2="282.22" stroke="#222" stroke-width="0.8"/>
<path d="M184.4 287.8L186.26 281.35L189.19 283.08Z" fill="#222"/>
<line x1="197.5" y1="334.2" x2="221.4" y2="334.2" stroke="#222" stroke-width="0.8"/>
<path d="M227.9 334.2L221.4 335.9L221.4 332.5Z" fill="#222"/>
<line x1="365.6" y1="331.3" x2="343.7" y2="331.3" stroke="#222" stroke-width="0.8"/>
<path d="M337.2 331.3L343.7 329.6L343.7 333Z" fill="#222"/>
<line x1="223" y1="366.2" x2="243.6" y2="366.2" stroke="#111" stroke-width="1.0"/>
<g fill="#000"><rect x="231" y="363.8" width="4.8" height="4.8"/></g>
<text x="248.3" y="371.2" font-size="13.7" text-anchor="start" font-family='"Liberation Sans", Arial, sans-serif' fill="#111" >Co/PMN-PT</text>
</g>
</svg></body></html>
